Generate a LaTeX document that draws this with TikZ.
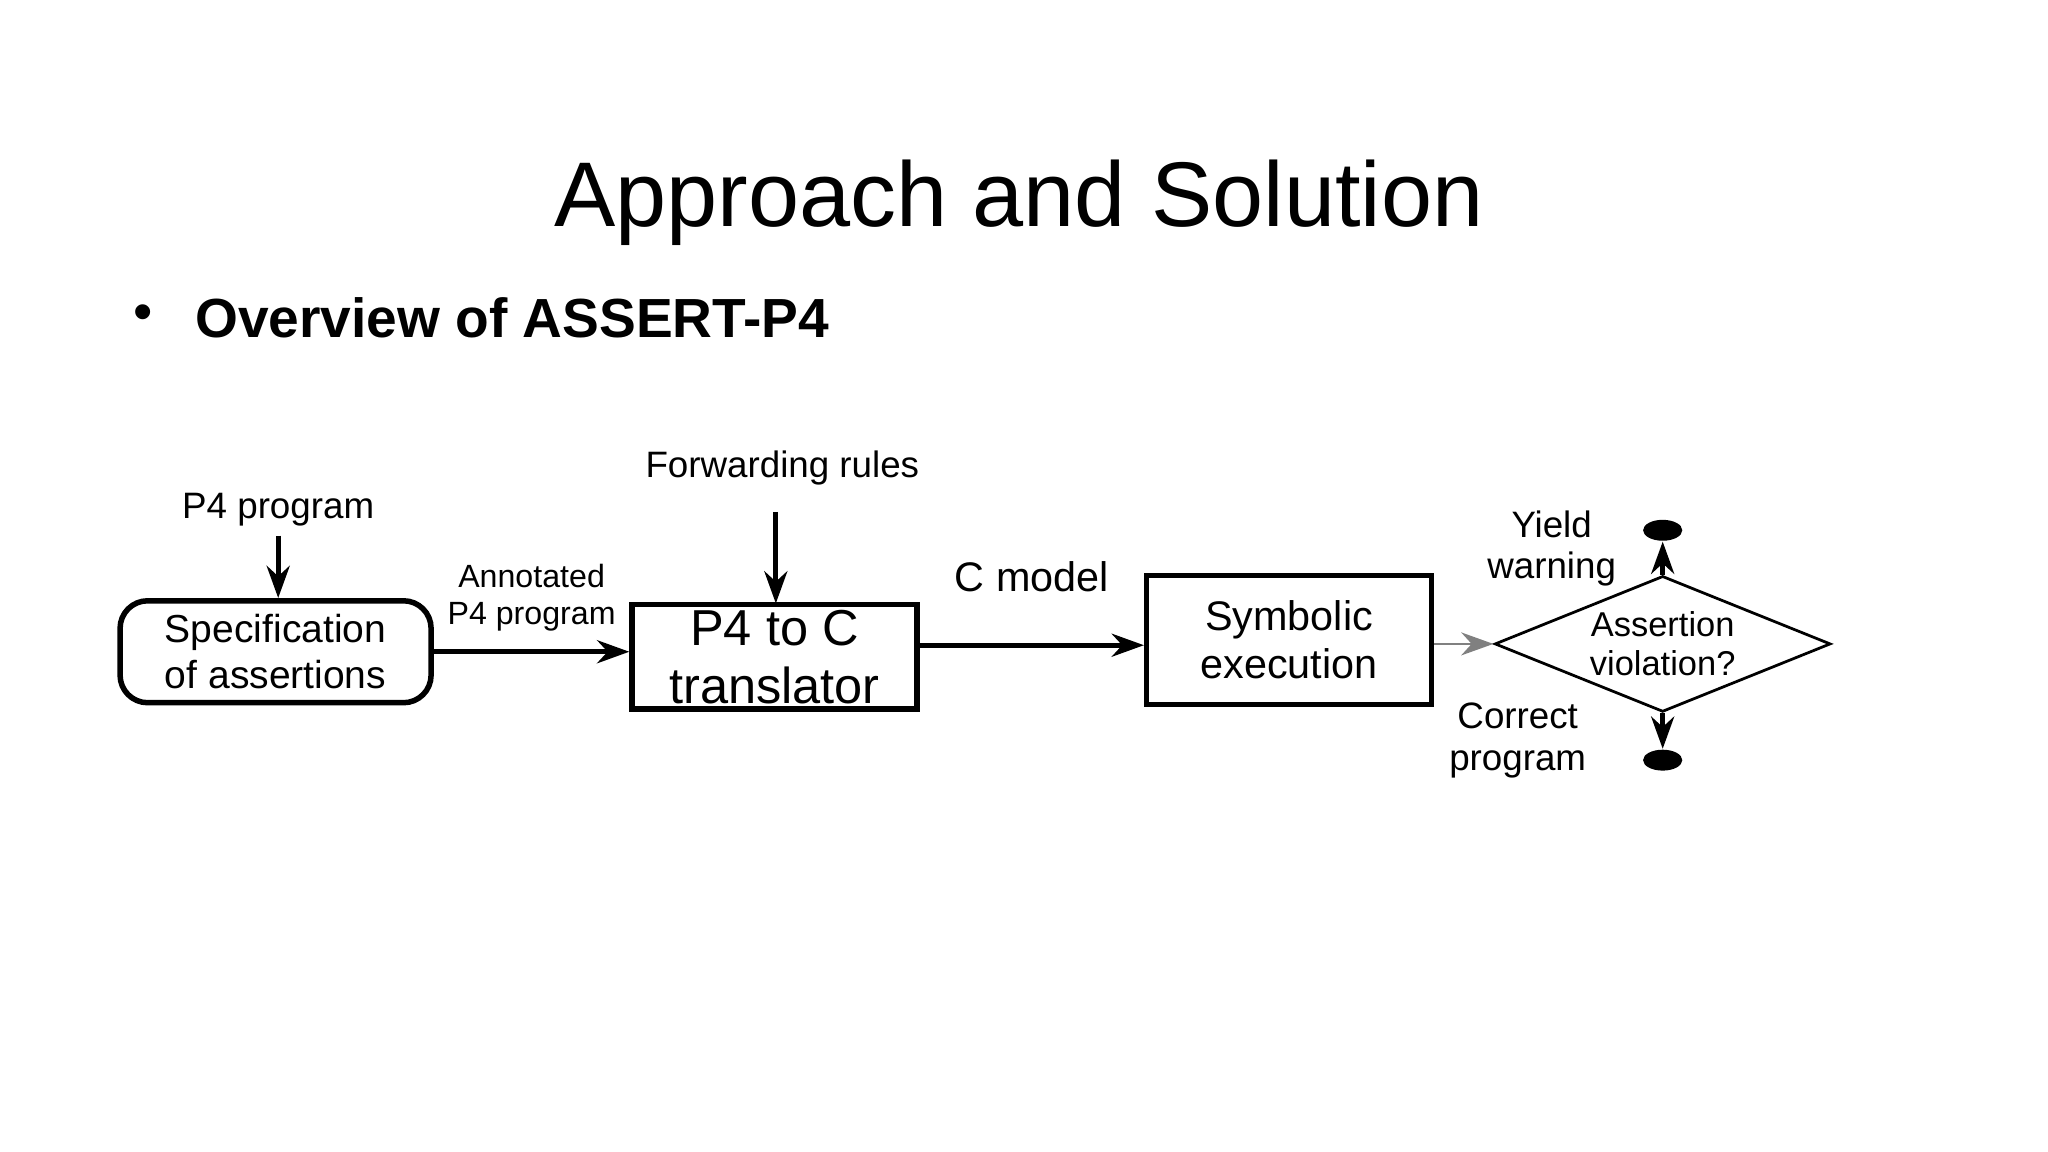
\documentclass[tikz,border=0pt]{standalone}
\usepackage{fontspec}
\setmainfont{Liberation Sans}
\usetikzlibrary{shapes.geometric,arrows.meta}
\begin{document}
\begin{tikzpicture}[x=0.01cm,y=-0.01cm,
  box/.style={draw,line width=1.2pt,align=center,inner sep=0pt},
  lab/.style={align=center,font=\fontsize{8}{9}\selectfont,inner sep=0pt},
  arr/.style={-{Stealth[length=7pt,width=5pt]},line width=1.1pt},
  dot/.style={ellipse,fill=black,minimum width=0.3cm,minimum height=0.16cm,inner sep=0pt}]
\useasboundingbox (0,0) rectangle (1568,882);
\node (title) at (780,155) {\fontsize{20}{24}\selectfont Approach and Solution};
\node[anchor=west] (bul) at (90,243) {\fontsize{12}{14}\selectfont •};
\node[anchor=west] (ov) at (137,243) {\fontsize{12}{14}\selectfont\bfseries Overview of ASSERT-P4};
% nodes
\node[box,rounded corners=6pt,minimum width=2.38cm,minimum height=0.78cm,font=\fontsize{8.5}{10}\selectfont] (spec) at (211,499) {Specification\\of assertions};
\node[lab] (p4) at (213,390) {P4 program};
\node[box,minimum width=2.18cm,minimum height=0.8cm,font=\fontsize{11}{12.5}\selectfont] (tr) at (593,503) {P4 to C\\translator};
\node[lab] (fr) at (599,358) {Forwarding rules};
\node[box,minimum width=2.18cm,minimum height=0.99cm,font=\fontsize{9}{10.5}\selectfont] (sym) at (987,490) {Symbolic\\execution};
\node[draw,diamond,aspect=2.47,line width=0.6pt,align=center,inner sep=0pt,minimum width=2.57cm,minimum height=1.04cm,font=\fontsize{7.5}{8.5}\selectfont] (dia) at (1273,493) {Assertion\\violation?};
\node[dot] (d1) at (1273,406) {};
\node[dot] (d2) at (1273,582) {};
\node[lab] (yw) at (1188,420) {Yield\\warning};
\node[lab] (cp) at (1162,567) {Correct\\program};
% connectors
\draw[arr] (p4.south |- 0,410) -- (spec.north -| p4.south);
\draw[arr] (spec.east) -- (tr.west |- spec.east) node[lab,midway,above=4pt,font=\fontsize{7}{8}\selectfont] (ann) {Annotated\\P4 program};
\draw[arr] (594,392) -- (594,462);
\draw[arr] (tr.east |- 0,494) -- (sym.west |- 0,494) node[lab,midway,above=11pt,font=\fontsize{9}{10}\selectfont] (cm) {C model};
\draw[arr,gray,line width=0.6pt] (sym.east |- dia.west) -- (dia.west);
\draw[arr] (dia.north) -- (d1.south);
\draw[arr] (dia.south) -- (d2.north);
\end{tikzpicture}
\end{document}
